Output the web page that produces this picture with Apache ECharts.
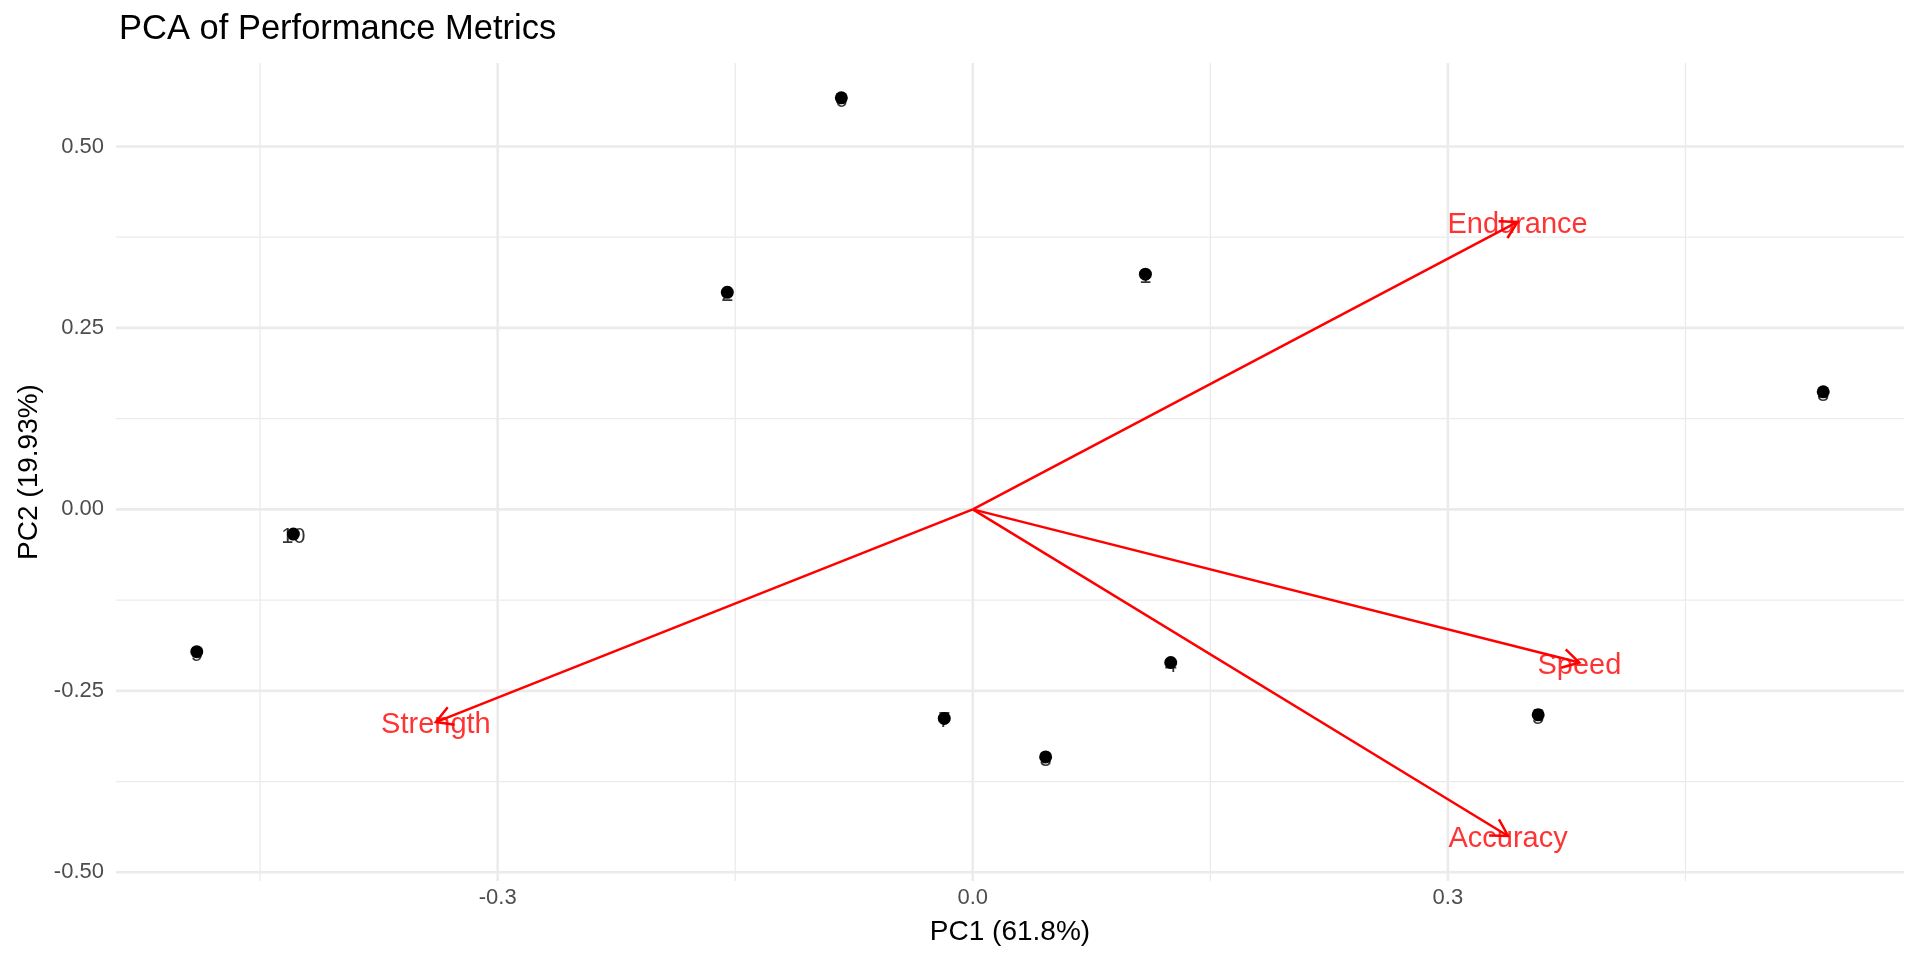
<!DOCTYPE html>
<html>
<head>
<meta charset="utf-8">
<title>PCA of Performance Metrics</title>
<script src="https://cdn.jsdelivr.net/npm/echarts@6/dist/echarts.min.js"></script>
<style>
  html, body { margin: 0; padding: 0; background: #fff; }
  #chart { width: 1920px; height: 960px; }
</style>
</head>
<body>
<div id="chart"></div>
<script>
// scores (PC1, PC2) with observation labels
const obsLabels = ['6', '2', '1', '8', '10', '9', '7', '3', '4', '5'];
const pc1 = [-0.083, -0.155, 0.109, 0.537, -0.429, -0.490, -0.018, 0.046, 0.125, 0.357];
const pc2 = [0.567, 0.299, 0.324, 0.162, -0.034, -0.196, -0.288, -0.341, -0.211, -0.283];

// loadings (arrows from origin)
const varNames = ['Endurance', 'Speed', 'Accuracy', 'Strength'];
const loadX = [0.344, 0.383, 0.338, -0.339];
const loadY = [0.396, -0.211, -0.450, -0.293];

// ticks / grid
const xMajor = [-0.3, 0.0, 0.3];
const xMinor = [-0.45, -0.15, 0.15, 0.45];
const yMajor = [-0.5, -0.25, 0.0, 0.25, 0.5];
const yMinor = [-0.375, -0.125, 0.125, 0.375];

const FONT = '"Liberation Sans", Arial, sans-serif';
const chart = echarts.init(document.getElementById('chart'));

const gridData = []
  .concat(xMinor.map(v => [v, 0, 1]))
  .concat(yMinor.map(v => [v, 1, 1]))
  .concat(xMajor.map(v => [v, 0, 2]))
  .concat(yMajor.map(v => [v, 1, 2]));

const option = {
  animation: false,
  backgroundColor: '#ffffff',
  title: {
    text: 'PCA of Performance Metrics',
    left: 114,
    top: 7,
    textStyle: { fontFamily: FONT, fontSize: 34.5, fontWeight: 'normal', color: '#000' }
  },
  grid: { left: 116, right: 16, top: 63, bottom: 79 },
  xAxis: {
    type: 'value',
    min: -0.541,
    max: 0.588,
    name: 'PC1 (61.8%)',
    nameLocation: 'middle',
    nameGap: 37,
    nameTextStyle: { fontFamily: FONT, fontSize: 28, color: '#000' },
    axisLine: { show: false },
    axisTick: { show: false },
    splitLine: { show: false },
    axisLabel: {
      customValues: xMajor,
      margin: 6,
      fontFamily: FONT,
      fontSize: 22,
      color: '#4D4D4D',
      formatter: v => v.toFixed(1)
    }
  },
  yAxis: {
    type: 'value',
    min: -0.512,
    max: 0.615,
    name: 'PC2 (19.93%)',
    nameLocation: 'middle',
    nameGap: 73,
    nameTextStyle: { fontFamily: FONT, fontSize: 28, color: '#000' },
    axisLine: { show: false },
    axisTick: { show: false },
    splitLine: { show: false },
    axisLabel: {
      customValues: yMajor,
      margin: 12,
      fontFamily: FONT,
      fontSize: 22,
      color: '#4D4D4D',
      formatter: v => v.toFixed(2)
    }
  },
  series: [
    {
      // panel grid lines
      type: 'custom',
      silent: true,
      z: 0,
      clip: true,
      data: gridData,
      renderItem: (params, api) => {
        const cs = params.coordSys;
        const v = api.value(0);
        const vertical = api.value(1) === 0;
        const major = api.value(2) === 2;
        let shape;
        if (vertical) {
          const px = api.coord([v, 0])[0];
          shape = { x1: px, y1: cs.y, x2: px, y2: cs.y + cs.height };
        } else {
          const py = api.coord([0, v])[1];
          shape = { x1: cs.x, y1: py, x2: cs.x + cs.width, y2: py };
        }
        return {
          type: 'line',
          shape: shape,
          style: { stroke: '#EBEBEB', lineWidth: major ? 2.6 : 1.3 }
        };
      }
    },
    {
      // observation labels
      type: 'scatter',
      silent: true,
      z: 2,
      symbolSize: 0,
      data: pc1.map((x, i) => ({ value: [x, pc2[i]], name: obsLabels[i] })),
      label: {
        show: true,
        position: 'inside',
        offset: [0, 3],
        formatter: p => p.name,
        fontFamily: FONT,
        fontSize: 22,
        color: '#000'
      }
    },
    {
      // observation points
      type: 'scatter',
      silent: true,
      z: 3,
      symbol: 'circle',
      symbolSize: 13,
      itemStyle: { color: '#000', opacity: 1 },
      data: pc1.map((x, i) => [x, pc2[i]])
    },
    {
      // loading arrows
      type: 'custom',
      silent: true,
      z: 4,
      data: loadX.map((x, i) => [x, loadY[i]]),
      renderItem: (params, api) => {
        const o = api.coord([0, 0]);
        const t = api.coord([api.value(0), api.value(1)]);
        const ang = Math.atan2(t[1] - o[1], t[0] - o[0]);
        const len = 19;
        const spread = Math.PI / 6;
        const a1 = [t[0] - len * Math.cos(ang - spread), t[1] - len * Math.sin(ang - spread)];
        const a2 = [t[0] - len * Math.cos(ang + spread), t[1] - len * Math.sin(ang + spread)];
        const style = { stroke: '#FF0000', lineWidth: 2.5, fill: null };
        return {
          type: 'group',
          children: [
            { type: 'line', shape: { x1: o[0], y1: o[1], x2: t[0], y2: t[1] }, style: style },
            { type: 'polyline', shape: { points: [a1, t, a2] }, style: style }
          ]
        };
      }
    },
    {
      // loading labels
      type: 'scatter',
      silent: true,
      z: 5,
      symbolSize: 0,
      data: loadX.map((x, i) => ({ value: [x, loadY[i]], name: varNames[i] })),
      label: {
        show: true,
        position: 'inside',
        offset: [0, 3],
        formatter: p => p.name,
        fontFamily: FONT,
        fontSize: 29,
        color: '#FF0000'
      }
    }
  ]
};

chart.setOption(option);
</script>
</body>
</html>
